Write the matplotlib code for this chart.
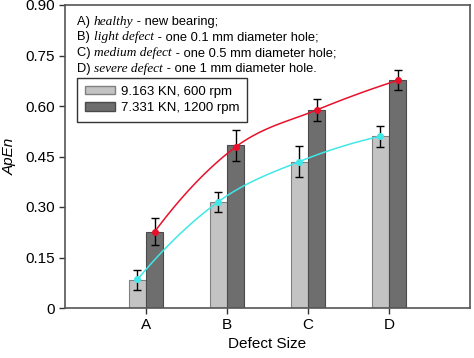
import numpy as np
import matplotlib
matplotlib.use("Agg")
import matplotlib.pyplot as plt
from matplotlib.patches import Patch

plt.rcParams['font.family'] = ['Liberation Sans', 'DejaVu Sans']

categories = ['A', 'B', 'C', 'D']
low_load = [0.082, 0.316, 0.435, 0.510]
low_err = [0.030, 0.030, 0.045, 0.032]
high_load = [0.226, 0.483, 0.588, 0.678]
high_err = [0.040, 0.045, 0.032, 0.030]
low_trend = [0.085, 0.316, 0.435, 0.510]
high_trend = [0.226, 0.478, 0.588, 0.676]
series_names = ['9.163 KN, 600 rpm', '7.331 KN, 1200 rpm']
notes = [
    ('A) ', 'healthy', ' - new bearing;'),
    ('B) ', 'light defect', ' - one 0.1 mm diameter hole;'),
    ('C) ', 'medium defect', ' - one 0.5 mm diameter hole;'),
    ('D) ', 'severe defect', ' - one 1 mm diameter hole.'),
]


def smooth_line(xs, ys, n=40):
    # cubic Hermite through the points, tangents from neighbours
    xs = np.asarray(xs, float)
    ys = np.asarray(ys, float)
    h = xs[1] - xs[0]
    m = np.zeros_like(ys)
    m[1:-1] = (ys[2:] - ys[:-2]) / 2
    m[0] = 2 * (ys[1] - ys[0]) - m[1]
    m[-1] = 2 * (ys[-1] - ys[-2]) - m[-2]
    t = np.linspace(0, 1, n)
    h00 = 2 * t ** 3 - 3 * t ** 2 + 1
    h10 = t ** 3 - 2 * t ** 2 + t
    h01 = -2 * t ** 3 + 3 * t ** 2
    h11 = t ** 3 - t ** 2
    outx, outy = [], []
    for i in range(len(xs) - 1):
        outx.extend(xs[i] + t * h)
        outy.extend(h00 * ys[i] + h10 * m[i] + h01 * ys[i + 1] + h11 * m[i + 1])
    return np.array(outx), np.array(outy)


fig = plt.figure(figsize=(4.74, 3.58), dpi=100)
ax = fig.add_axes([65 / 474, 50 / 358, 405 / 474, 303 / 358])

x = np.arange(1, len(categories) + 1)
w = 0.21
ax.bar(x - w / 2, low_load, w, color='#c3c3c3', edgecolor='#808080', linewidth=0.8)
ax.bar(x + w / 2, high_load, w, color='#6e6e6e', edgecolor='#4a4a4a', linewidth=0.8)
ax.errorbar(x - w / 2, low_load, yerr=low_err, fmt='none', ecolor='black', elinewidth=1.0, capsize=3, capthick=1.0, zorder=4)
ax.errorbar(x + w / 2, high_load, yerr=high_err, fmt='none', ecolor='black', elinewidth=1.0, capsize=3, capthick=1.0, zorder=4)

for xs, ys, col in [(x - w / 2, low_trend, '#40e8e8'), (x + w / 2, high_trend, '#e8102a')]:
    sx, sy = smooth_line(xs, ys)
    ax.plot(sx, sy, color=col, lw=1.1, zorder=5)
    ax.plot(xs, ys, 'o', color=col, ms=4, zorder=6)

ax.set_xlim(0, 5)
ax.set_ylim(0, 0.9)
ax.set_yticks(np.arange(0, 0.91, 0.15))
ax.set_yticklabels(['0'] + ['%.2f' % v for v in np.arange(0.15, 0.91, 0.15)])
ax.set_xticks(x)
ax.set_xticklabels(categories)
ax.tick_params(axis='both', labelsize=11, direction='out', length=4, width=1, color='#333333')
for sp in ax.spines.values():
    sp.set_color('#555555')
    sp.set_linewidth(1.2)
ax.set_xlabel('Defect Size', fontsize=11, labelpad=3)
ax.set_ylabel('ApEn', fontsize=11, style='italic', labelpad=6)

leg = ax.legend(handles=[Patch(facecolor='#c3c3c3', edgecolor='#808080'),
                         Patch(facecolor='#6e6e6e', edgecolor='#4a4a4a')],
                labels=series_names, loc='upper left', bbox_to_anchor=(0.03, 0.76),
                borderaxespad=0, fontsize=9.5, frameon=True, fancybox=False, edgecolor='black',
                handlelength=2.3, handleheight=0.6, handletextpad=0.4, borderpad=0.6, labelspacing=0.35)
leg.get_frame().set_linewidth(1.0)

fig.canvas.draw()
renderer = fig.canvas.get_renderer()
baselines = [25, 40, 56, 72]
for (pre, ital, post), yb in zip(notes, baselines):
    xp = 77
    ypix = 358 - yb
    for txt, kw in [(pre, dict(family=['Liberation Sans'])),
                    (ital, dict(family=['Liberation Serif'], style='italic', size=9.6)),
                    (post, dict(family=['Liberation Sans']))]:
        t = fig.text(xp / 474, ypix / 358, txt, fontsize=kw.pop('size', 9.3), va='baseline', ha='left', **kw)
        bb = t.get_window_extent(renderer)
        xp = bb.x1

fig.savefig('out.png', dpi=100)
